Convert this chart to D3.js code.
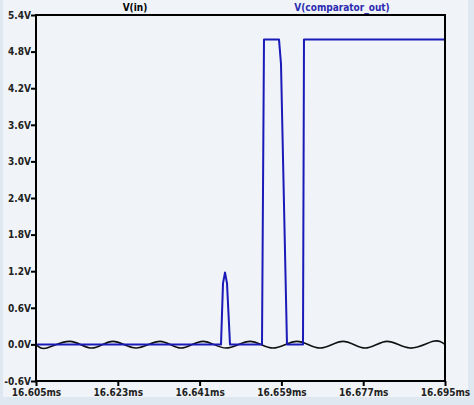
<!DOCTYPE html><html><head><meta charset="utf-8">
<script src="https://cdn.jsdelivr.net/npm/d3@7"></script>
<style>body{margin:0;background:#dfe8f1}</style></head><body>
<script>
const yTicks=[-0.6,0,0.6,1.2,1.8,2.4,3.0,3.6,4.2,4.8,5.4];
const xTicks=[16.605,16.623,16.641,16.659,16.677,16.695];
const inT=[16.605,16.60742,16.61248,16.61732,16.62194,16.62701,16.63229,16.63691,16.64175,16.64681,16.65209,16.65715,16.66243,16.66749,16.67256,16.6774,16.68224,16.6873,16.69236,16.695];
const inV=[0,-0.06,0.05,-0.06,0.05,-0.06,0.05,-0.06,0.05,-0.06,0.05,-0.06,0.05,-0.06,0.05,-0.06,0.05,-0.06,0.05,0];
const outT=[16.605,16.64571,16.64615,16.64659,16.64703,16.64769,16.65473,16.65517,16.65847,16.65891,16.66023,16.66375,16.66397,16.695];
const outV=[0,0,1.0,1.18,1.0,0,0,5.0,5.0,4.6,0,0,5.0,5.0];
const W=474,H=405,L=36,R=445,T=15,B=381;
const svg=d3.select("body").append("svg").attr("width",W).attr("height",H);
svg.append("rect").attr("x",0).attr("y",0).attr("width",W).attr("height",H).attr("fill","#dfe8f1");
svg.append("rect").attr("x",3).attr("y",0).attr("width",W-9).attr("height",H-8).attr("fill","#f0f4f8");
const x=d3.scaleLinear().domain([16.605,16.695]).range([L,R]);
const y=d3.scaleLinear().domain([-0.6,5.4]).range([B,T]);
const font="'DejaVu Sans Condensed','DejaVu Sans',sans-serif";
const ya=svg.append("g").attr("transform",`translate(${L},0)`).call(d3.axisLeft(y).tickValues(yTicks).tickFormat(d=>d.toFixed(1)+"V").tickSize(5).tickSizeOuter(0));
const xa=svg.append("g").attr("transform",`translate(0,${B})`).call(d3.axisBottom(x).tickValues(xTicks).tickFormat(d=>d.toFixed(3)+"ms").tickSize(5).tickSizeOuter(0));
[ya,xa].forEach(a=>{a.select(".domain").remove();a.selectAll("line").attr("stroke","#000").attr("stroke-width",2);a.selectAll("text").attr("font-family",font).attr("font-size",10).attr("font-weight","bold").attr("fill","#222");});
ya.selectAll("text").attr("x",-5);
xa.selectAll("text").attr("y",8);
svg.append("text").attr("x",135).attr("y",11).attr("text-anchor","middle").attr("font-family",font).attr("font-size",10).attr("font-weight","bold").text("V(in)");
svg.append("text").attr("x",342).attr("y",11).attr("text-anchor","middle").attr("font-family",font).attr("font-size",10).attr("font-weight","bold").attr("fill","#2b2bb0").text("V(comparator_out)");
const li=d3.line().x((d,i)=>x(inT[i])).y(d=>y(d)).curve(d3.curveNatural);
svg.append("path").attr("d",li(inV)).attr("fill","none").attr("stroke","#111").attr("stroke-width",1.6);
const lo=d3.line().x((d,i)=>x(outT[i])).y(d=>y(d));
svg.append("path").attr("d",lo(outV)).attr("fill","none").attr("stroke","#1a1ab8").attr("stroke-width",2).attr("stroke-linejoin","round");
svg.append("rect").attr("x",L).attr("y",T).attr("width",R-L).attr("height",B-T).attr("fill","none").attr("stroke","#000").attr("stroke-width",2);
</script></body></html>
